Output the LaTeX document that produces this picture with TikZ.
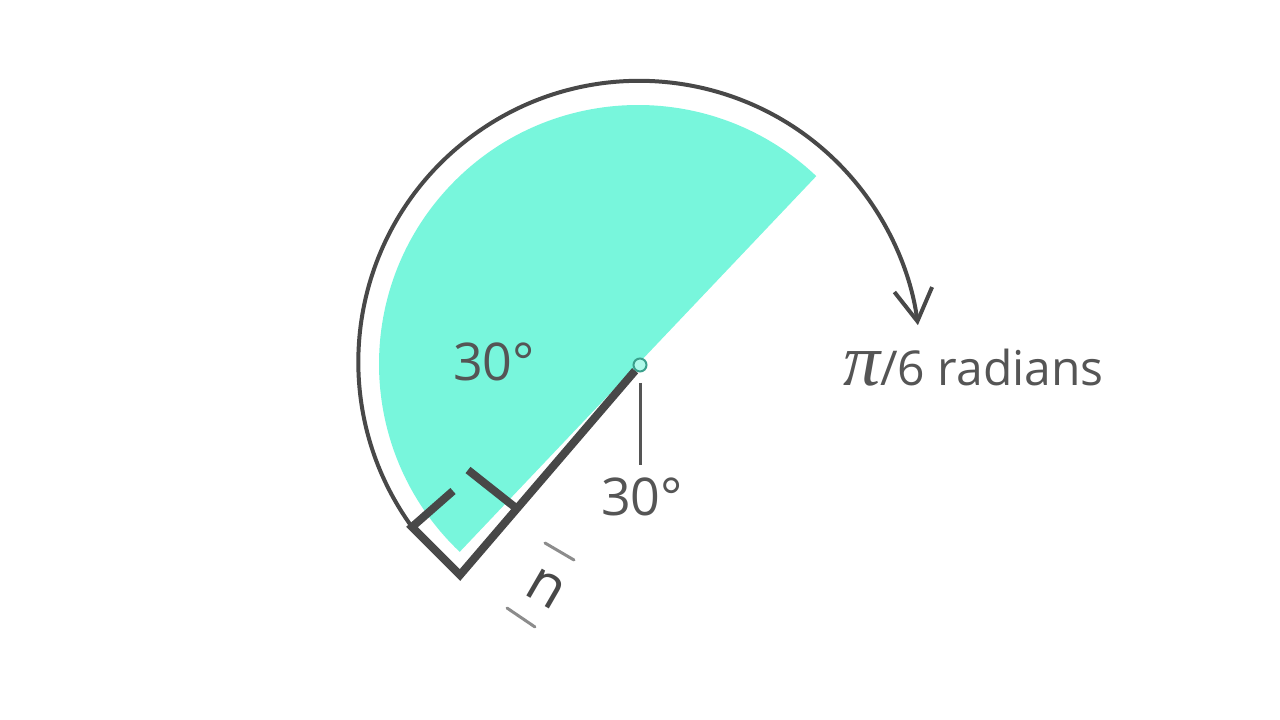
\documentclass[tikz,border=0pt]{standalone}
\usepackage{fontspec}
\setmainfont{Open Sans}
\newfontfamily\pifont{Liberation Serif}
\usetikzlibrary{arrows.meta}
\definecolor{tealfill}{RGB}{120,246,220}
\definecolor{darkline}{RGB}{72,72,72}
\definecolor{txtgray}{RGB}{85,85,85}
\definecolor{ring}{RGB}{58,160,140}
\definecolor{bargray}{RGB}{140,140,140}
\tikzset{
  bigtext/.style={text=txtgray, inner sep=0pt, font=\fontsize{52}{60}\selectfont},
  radtext/.style={text=txtgray, inner sep=0pt, font=\fontsize{48}{54}\selectfont},
  thickline/.style={draw=darkline, line width=8pt, line join=miter},
  outerarc/.style={draw=darkline, line width=4pt},
  thinline/.style={draw=txtgray, line width=3pt},
  barline/.style={draw=bargray, line width=3pt, line cap=round},
}
\begin{document}
\begin{tikzpicture}[x=1pt,y=1pt]
\useasboundingbox (0,0) rectangle (1280,720);
% teal half disk
\coordinate (T) at (638,356);
\fill[tealfill] (T) ++(46.5:259) arc[start angle=46.5, end angle=226.5, radius=259] -- cycle;
% outer arc with arrow
\coordinate (O) at (637,355);
\coordinate (P2) at (412,193);
\draw[outerarc, -{Straight Barb[length=32pt,width=38pt,line width=4pt]}] (P2) arc[start angle=216, end angle=7.5, radius=281];
% centre marker
\node[circle, draw=ring, fill=tealfill!60!white, line width=2pt, minimum size=13pt, inner sep=0pt] (c) at (640,355) {};
% thick radius and right-angle frame
\coordinate (P1) at (460,145);
\coordinate (P3) at (453,229);
\coordinate (T1) at (468,250);
\coordinate (T2) at (516,212);
\draw[thickline] (c) -- (P1) -- (P2) -- (P3);
\draw[thickline] (T1) -- (T2);
% vertical tick to label
\node[bigtext, anchor=north] (lbl) at (642,242) {30°};
\coordinate (V1) at (640,337);
\coordinate (V2) at (640,255);
\draw[thinline] (V1) -- (V2);
% inner label
\node[bigtext] (inner) at (494,358) {30°};
% radians label
\node[radtext, anchor=base west] (rad) at (843,334) {{\pifont\itshape\fontsize{74}{78}\selectfont π}/6 radians};
% rotated n with bars
\node[text=darkline, inner sep=0pt, rotate=-30, font=\fontsize{58}{70}\selectfont] (n) at (546,131) {n};
\coordinate (B1) at (545,177);
\coordinate (B2) at (574,160);
\coordinate (B3) at (507,112);
\coordinate (B4) at (535,93);
\draw[barline] (B1) -- (B2);
\draw[barline] (B3) -- (B4);
\end{tikzpicture}
\end{document}
